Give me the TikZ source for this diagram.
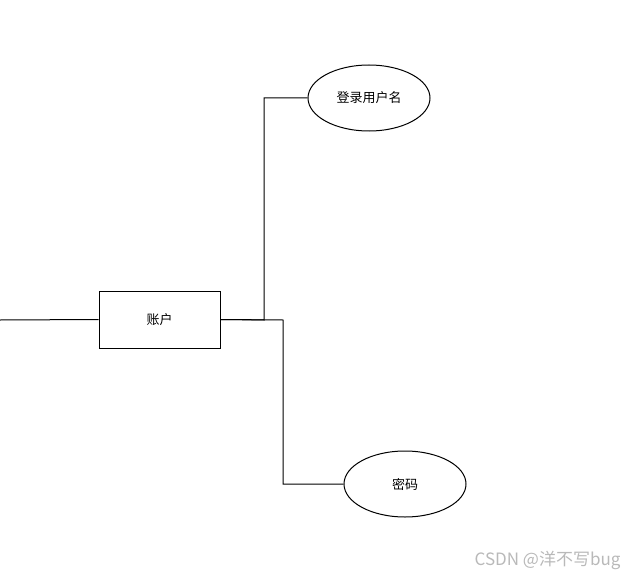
\documentclass[tikz,border=0pt]{standalone}
\usepackage{fontspec}
\newfontfamily\cjk{Noto Sans CJK SC}
\usetikzlibrary{shapes.geometric}
\begin{document}
\begin{tikzpicture}[x=1pt,y=-1pt,
  ent/.style={draw,line width=1pt,minimum width=121pt,minimum height=57pt,font=\cjk\fontsize{13}{15}\selectfont},
  attr/.style={draw,ellipse,line width=1pt,minimum width=122pt,minimum height=66pt,inner sep=0pt,font=\cjk\fontsize{13}{15}\selectfont},
  conn/.style={line width=1pt}]
\useasboundingbox (0,0) rectangle (626,575);
\node[ent] (acc) at (159.5,319.5) {账户};
\node[attr] (user) at (369,98) {登录用户名};
\node[attr] (pwd) at (405,484) {密码};
\coordinate (left) at (0,320);
\draw[conn] (left) -- (acc.west);
\draw[conn] (acc.east) -- (264,320) |- (user.west);
\draw[conn] (acc.east) -- (283,320) |- (pwd.west);
\node[anchor=east,text=gray!55,font=\cjk\fontsize{17}{19}\selectfont] (wm) at (624,560) {CSDN @洋不写bug};
\end{tikzpicture}
\end{document}
